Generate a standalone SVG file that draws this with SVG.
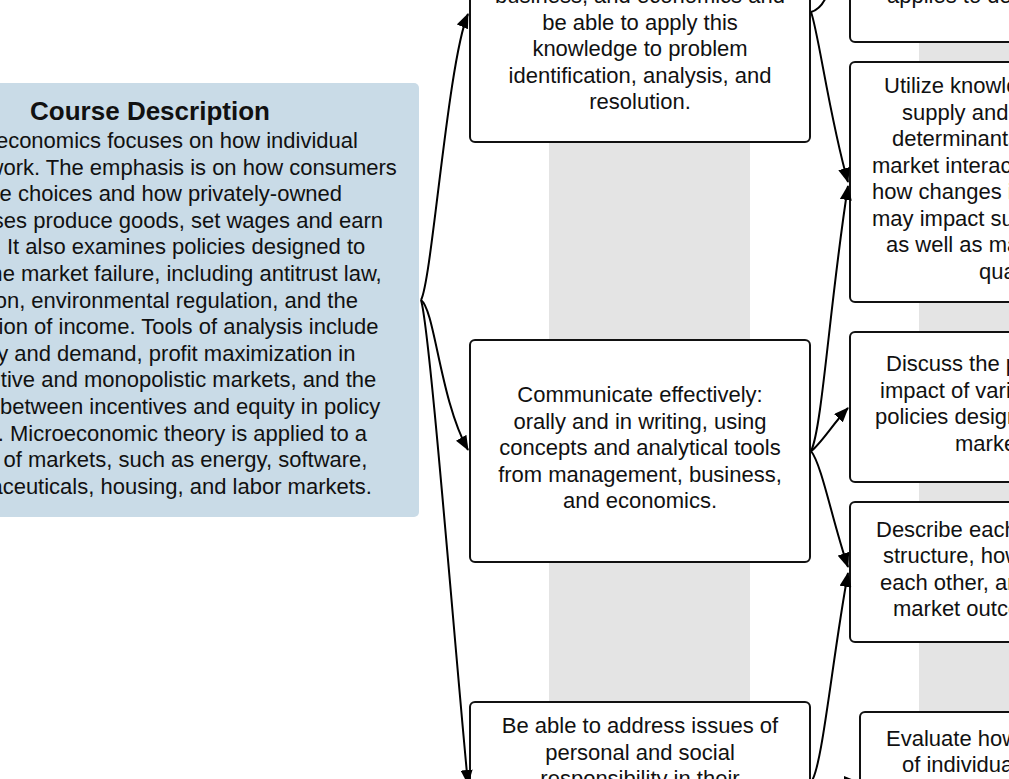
<svg xmlns="http://www.w3.org/2000/svg" width="1009" height="779" viewBox="0 0 1009 779">
  <defs>
    <style>
      .lane { fill: #e4e4e4; }
      .box { fill: #ffffff; stroke: #111111; stroke-width: 2; }
      .desc { fill: #c9dbe7; }
      .t { font-family: "Liberation Sans", Arial, sans-serif; font-size: 22px; fill: #111111; }
      .c { text-anchor: middle; }
      .title { font-family: "Liberation Sans", Arial, sans-serif; font-size: 26px; font-weight: bold; fill: #111111; text-anchor: middle; }
      .conn { fill: none; stroke: #000000; stroke-width: 2; }
    </style>
    <marker id="arrow" viewBox="0 0 15 12" refX="14" refY="6" markerWidth="15" markerHeight="12" markerUnits="userSpaceOnUse" orient="auto">
      <path d="M0,0 L15,6 L0,12 z" fill="#000000"/>
    </marker>
  </defs>
  <rect width="1009" height="779" fill="#ffffff"/>
  <rect class="lane" x="549" y="-10" width="201" height="800"/>
  <rect class="lane" x="919" y="-10" width="201" height="800"/>

  <g id="course-description">
    <rect class="desc" x="-120" y="83" width="539" height="434" rx="5"/>
    <text class="title" x="150" y="120">Course Description</text>
    <text class="t c" x="150" y="148">Microeconomics focuses on how individual</text>
    <text class="t c" x="150" y="174.6">markets work. The emphasis is on how consumers</text>
    <text class="t c" x="150" y="201.2">make choices and how privately-owned</text>
    <text class="t c" x="150" y="227.8">businesses produce goods, set wages and earn</text>
    <text class="t c" x="150" y="254.4">profits. It also examines policies designed to</text>
    <text class="t c" x="150" y="281">overcome market failure, including antitrust law,</text>
    <text class="t c" x="150" y="307.6">taxation, environmental regulation, and the</text>
    <text class="t c" x="150" y="334.2">distribution of income. Tools of analysis include</text>
    <text class="t c" x="150" y="360.8">supply and demand, profit maximization in</text>
    <text class="t c" x="150" y="387.4">competitive and monopolistic markets, and the</text>
    <text class="t c" x="150" y="414">tradeoff between incentives and equity in policy</text>
    <text class="t c" x="150" y="440.6">design. Microeconomic theory is applied to a</text>
    <text class="t c" x="150" y="467.2">variety of markets, such as energy, software,</text>
    <text class="t c" x="150" y="493.8">pharmaceuticals, housing, and labor markets.</text>
  </g>

  <g id="goal-knowledge">
    <rect class="box" x="470" y="-120" width="340" height="262" rx="5"/>
    <text class="t c" x="640" y="3">business, and economics and</text>
    <text class="t c" x="640" y="29.5">be able to apply this</text>
    <text class="t c" x="640" y="56">knowledge to problem</text>
    <text class="t c" x="640" y="82.5">identification, analysis, and</text>
    <text class="t c" x="640" y="109">resolution.</text>
  </g>

  <g id="goal-communicate">
    <rect class="box" x="470" y="340" width="340" height="222" rx="5"/>
    <text class="t c" x="640" y="402">Communicate effectively:</text>
    <text class="t c" x="640" y="428.5">orally and in writing, using</text>
    <text class="t c" x="640" y="455">concepts and analytical tools</text>
    <text class="t c" x="640" y="481.5">from management, business,</text>
    <text class="t c" x="640" y="508">and economics.</text>
  </g>

  <g id="goal-responsibility">
    <rect class="box" x="470" y="702" width="340" height="160" rx="5"/>
    <text class="t c" x="640" y="733">Be able to address issues of</text>
    <text class="t c" x="640" y="759.5">personal and social</text>
    <text class="t c" x="640" y="786">responsibility in their</text>
  </g>

  <g id="outcome-1">
    <rect class="box" x="850" y="-100" width="340" height="142" rx="5"/>
    <text class="t" x="887" y="3">applies to decision making.</text>
  </g>

  <g id="outcome-2">
    <rect class="box" x="850" y="62" width="340" height="240" rx="5"/>
    <text class="t" x="884" y="93">Utilize knowledge of the</text>
    <text class="t" x="902" y="120">supply and demand, the</text>
    <text class="t" x="892" y="146">determinants of each, and</text>
    <text class="t" x="872" y="173">market interactions to explain</text>
    <text class="t" x="872" y="199">how changes in determinants</text>
    <text class="t" x="872" y="226">may impact supply and demand</text>
    <text class="t" x="886" y="252">as well as market price and</text>
    <text class="t" x="979" y="279">quantity.</text>
  </g>

  <g id="outcome-3">
    <rect class="box" x="850" y="332" width="340" height="150" rx="5"/>
    <text class="t" x="886" y="371">Discuss the potential</text>
    <text class="t" x="880" y="398">impact of various government</text>
    <text class="t" x="875" y="424">policies designed to correct</text>
    <text class="t" x="955" y="451">market failure.</text>
  </g>

  <g id="outcome-4">
    <rect class="box" x="850" y="502" width="340" height="140" rx="5"/>
    <text class="t" x="876" y="537">Describe each market</text>
    <text class="t" x="883" y="563">structure, how they differ from</text>
    <text class="t" x="880" y="590">each other, and their effect on</text>
    <text class="t" x="893" y="616">market outcomes.</text>
  </g>

  <g id="outcome-5">
    <rect class="box" x="860" y="712" width="340" height="140" rx="5"/>
    <text class="t" x="886" y="746">Evaluate how the choices</text>
    <text class="t" x="902" y="772">of individuals and firms</text>
  </g>

  <g id="connectors">
    <path class="conn" d="M421,300 C432,280 448,60 468,14" marker-end="url(#arrow)"/>
    <path class="conn" d="M421,300 C435,310 440,400 468,450" marker-end="url(#arrow)"/>
    <path class="conn" d="M421,300 C430,330 455,650 468,784" marker-end="url(#arrow)"/>
    <path class="conn" d="M811,12 C818,10 824,4 828,-8"/>
    <path class="conn" d="M811,12 C818,30 830,120 848,182" marker-end="url(#arrow)"/>
    <path class="conn" d="M811,451 C822,430 830,300 848,186" marker-end="url(#arrow)"/>
    <path class="conn" d="M811,451 C820,445 832,425 848,408" marker-end="url(#arrow)"/>
    <path class="conn" d="M811,451 C822,465 832,520 848,567" marker-end="url(#arrow)"/>
    <path class="conn" d="M811,782 C822,770 832,660 848,573" marker-end="url(#arrow)"/>
    <path class="conn" d="M811,782 C825,782 840,782 858,782" marker-end="url(#arrow)"/>
  </g>
</svg>
